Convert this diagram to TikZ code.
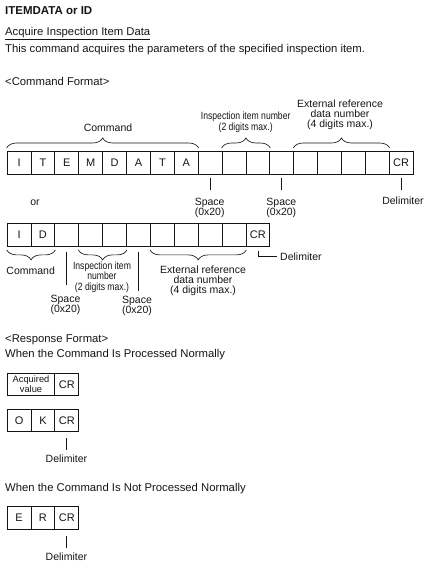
\documentclass[tikz,border=0pt]{standalone}
\usepackage{fontspec}
\setmainfont{Liberation Sans}
\newfontfamily\narrowfont[FakeStretch=0.82]{Liberation Sans}
\usetikzlibrary{decorations.pathreplacing}
\definecolor{ink}{HTML}{151515}
\begin{document}
\begin{tikzpicture}[x=1pt,y=-1pt,
  cell/.style={draw=ink,line width=0.9pt,minimum width=23.88pt,minimum height=23.5pt,inner sep=0pt,anchor=north west,text=ink,font=\fontsize{11}{12}\selectfont},
  body/.style={anchor=west,inner sep=0pt,text=ink,font=\fontsize{11.3}{13}\selectfont},
  lab/.style={align=center,inner sep=0pt,text=ink,font=\fontsize{10.5}{10.2}\selectfont},
  nlab/.style={align=center,inner sep=0pt,text=ink,font=\fontsize{10.5}{10.6}\selectfont\narrowfont},
  brc/.style={draw=ink,line width=0.65pt,decorate,decoration={brace,amplitude=10pt}},
  tick/.style={draw=ink,line width=0.75pt}]
\useasboundingbox (0,0) rectangle (428,567);
% header texts
\node[body,font=\fontsize{11.5}{13}\selectfont\bfseries] (title) at (5,11) {ITEMDATA or ID};
\node[body] (sub) at (5,33.3) {\underline{Acquire Inspection Item Data}};
\node[body] (desc) at (5,50) {This command acquires the parameters of the specified inspection item.};
\node[body] (cf) at (5,81) {<Command Format>};
% row 1
\foreach \t [count=\i from 0] in {I,T,E,M,D,A,T,A,{},{},{},{},{},{},{},{},CR}
  \node[cell] (r\i) at ({6.7+\i*23.88},150.5) {\t};
\draw[brc] ([yshift=2.5pt]r0.north west) -- ([yshift=2.5pt]r7.north east);
\draw[brc] ([yshift=2.5pt]r9.north west) -- ([yshift=2.5pt]r10.north east);
\draw[brc] ([yshift=2.5pt]r12.north west) -- ([yshift=2.5pt]r15.north east);
\node[lab] (cmd1) at (108,128) {Command};
\node[nlab] (ins1) at (245.7,122.4) {Inspection item number\\(2 digits max.)};
\node[lab] (ext1) at (340,114.5) {External reference\\data number\\(4 digits max.)};
\draw[tick] ([yshift=-3pt]r8.south) -- ([yshift=-15.5pt]r8.south);
\draw[tick] ([yshift=-3pt]r11.south) -- ([yshift=-15.5pt]r11.south);
\draw[tick] ([yshift=-3pt]r16.south) -- ([yshift=-15.5pt]r16.south);
\node[lab] (sp1) at (209.7,207.7) {Space\\(0x20)};
\node[lab] (sp2) at (281.3,207.7) {Space\\(0x20)};
\node[lab] (dl1) at (403,200.7) {Delimiter};
\node[lab] (or) at (35,202.7) {or};
% row 2
\foreach \t [count=\i from 0] in {I,D,{},{},{},{},{},{},{},{},CR}
  \node[cell,minimum height=22.7pt] (s\i) at ({6.7+\i*23.88},223.3) {\t};
\draw[brc] ([yshift=-3pt]s1.south east) -- ([yshift=-3pt]s0.south west);
\draw[brc] ([yshift=-3pt]s4.south east) -- ([yshift=-3pt]s3.south west);
\draw[brc] ([yshift=-3pt]s9.south east) -- ([yshift=-3pt]s6.south west);
\node[lab] (cmd2) at (30.7,270.7) {Command};
\node[nlab] (ins2) at (102,277) {Inspection item\\number\\(2 digits max.)};
\node[lab] (ext2) at (203,280.5) {External reference\\data number\\(4 digits max.)};
\draw[tick] ([yshift=-5.5pt]s2.south) -- ([yshift=-38pt]s2.south);
\draw[tick] ([yshift=-5.5pt]s5.south) -- ([yshift=-44pt]s5.south);
\node[lab] (sp3) at (65.5,305) {Space\\(0x20)};
\node[lab] (sp4) at (137,306) {Space\\(0x20)};
\node[lab,anchor=west] (dl2) at (280,256.7) {Delimiter};
\draw[tick] ([yshift=-4.5pt]s10.south) |- ([xshift=-3pt]dl2.west);
% response
\node[body] (rf) at (5,340) {<Response Format>};
\node[body] (ok) at (5,355) {When the Command Is Processed Normally};
\node[cell,minimum width=47.76pt,minimum height=22.6pt,font=\fontsize{9.3}{9.6}\selectfont,align=center] (acq) at (6.7,372.7) {Acquired\\value};
\node[cell,minimum height=22.6pt] (acr) at (54.46,372.7) {CR};
\foreach \t [count=\i from 0] in {O,K,CR}
  \node[cell,minimum height=22pt] (k\i) at ({6.7+\i*23.88},409) {\t};
\draw[tick] ([yshift=-6.5pt]k2.south) -- ([yshift=-18.3pt]k2.south);
\node[lab] (dl3) at (66.4,458.3) {Delimiter};
\node[body] (ng) at (5,488.3) {When the Command Is Not Processed Normally};
\foreach \t [count=\i from 0] in {E,R,CR}
  \node[cell,minimum height=23pt] (e\i) at ({6.7+\i*23.88},505.7) {\t};
\draw[tick] ([yshift=-6.3pt]e2.south) -- ([yshift=-18pt]e2.south);
\node[lab] (dl4) at (66.4,556.7) {Delimiter};
\end{tikzpicture}
\end{document}
